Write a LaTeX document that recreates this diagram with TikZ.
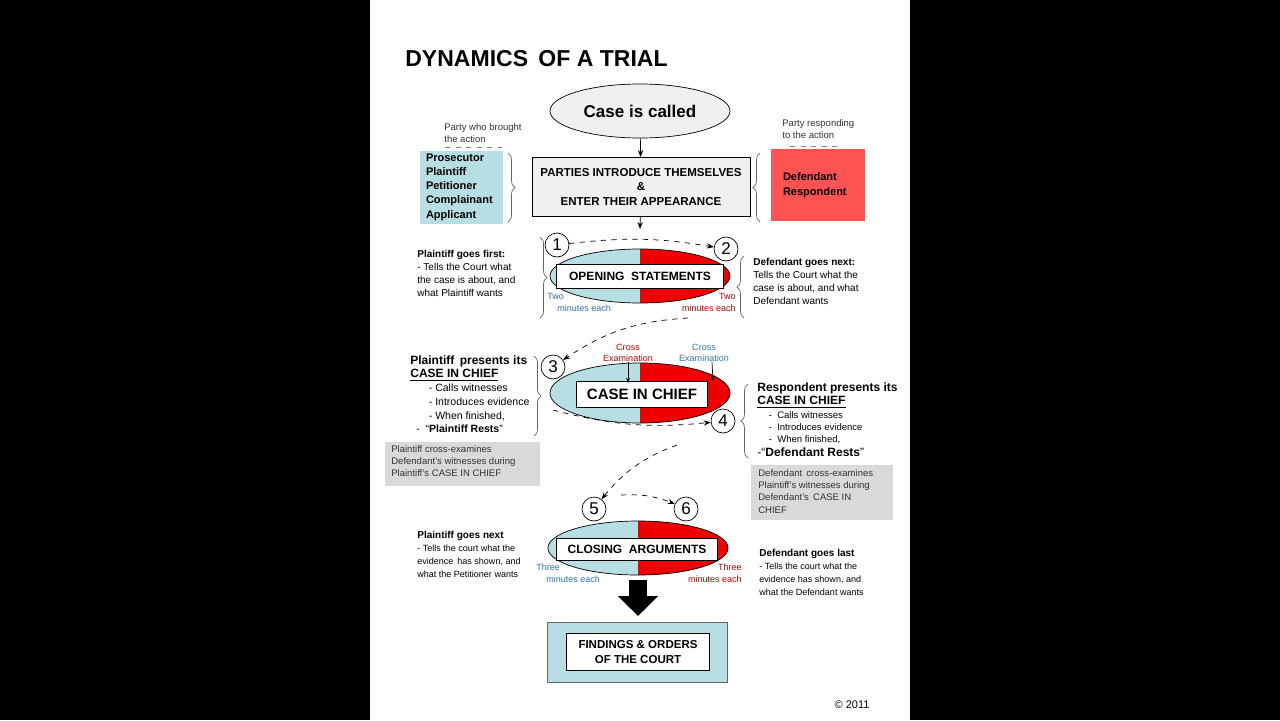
\documentclass[tikz,border=0pt]{standalone}
\usepackage{fontspec}
\setmainfont{Liberation Sans}
\usetikzlibrary{decorations.pathreplacing,arrows.meta,shapes.geometric}
\definecolor{lb}{HTML}{B7DEE3}
\definecolor{rd}{HTML}{EE0000}
\definecolor{pink}{HTML}{FF5252}
\definecolor{gb}{HTML}{D9D9D9}
\definecolor{bl}{HTML}{2E75B6}
\definecolor{dr}{HTML}{C00000}
\newcommand{\fz}[1]{\fontsize{\dimexpr #1pt*57/100\relax}{\dimexpr #1pt*74/100\relax}\selectfont}
\newcommand{\fzt}[1]{\fontsize{\dimexpr #1pt*57/100\relax}{\dimexpr #1pt*66/100\relax}\selectfont}
\tikzset{
 txt/.style={inner sep=0pt,align=left,anchor=north west,font=\fz{10}},
 num/.style={circle,draw,minimum size=24*0.02cm,inner sep=0pt,font=\fz{17},fill=white},
 dasharr/.style={dashed,-{Stealth[length=4pt]},thin},
 brc/.style={decorate,decoration={brace,amplitude=4pt},black!60,thin},
 wbox/.style={draw,fill=white,inner sep=0pt,font=\bfseries\fz{12}}
}
\begin{document}
\begin{tikzpicture}[x=0.02cm,y=-0.02cm]
\fill[black] (0,0) rectangle (1280,720);
\fill[white] (370,0) rectangle (910,720);
\node[txt,font=\bfseries\fz{23}] (title) at (405,50) {DYNAMICS \,OF A TRIAL};
% case is called
\node[draw,ellipse,fill=gray!12,minimum width=180*0.02cm,minimum height=54*0.02cm,font=\bfseries\fz{17}] (cc) at (640,111) {Case is called};
\node[draw,fill=gray!12,minimum width=218*0.02cm,minimum height=59*0.02cm,align=center,font=\bfseries\fz{11.5},inner sep=0pt] (pit) at (641,187) {PARTIES INTRODUCE THEMSELVES\\\&\\ENTER THEIR APPEARANCE};
\draw[-{Stealth[length=4pt]}] (cc) -- (pit);
\node[fill=lb,minimum width=83*0.02cm,minimum height=73*0.02cm,align=left,font=\bfseries\fz{11},inner sep=0pt,text width=70*0.02cm] (pros) at (461,187) {Prosecutor\\Plaintiff\\Petitioner\\Complainant\\Applicant};
\node[fill=pink,minimum width=94*0.02cm,minimum height=72*0.02cm,align=left,font=\bfseries\fz{11},inner sep=0pt,text width=70*0.02cm] (def) at (818,185) {Defendant\\Respondent};
\node[txt,font=\fz{9.5},text=black!80] (pwb) at (444,123) {Party who brought\\the action};
\node[txt,font=\fz{9.5},text=black!80] (pr) at (782,119) {Party responding\\to the action};
\draw[dashed,gray] (445,147) -- (502,147);
\draw[dashed,gray] (790,146) -- (838,146);
\draw[brc] (508,153) -- (508,222);
\draw[brc] (760,222) -- (760,153);
% opening
\begin{scope}
\clip (640,276) ellipse [x radius=90,y radius=27];
\fill[lb] (550,240) rectangle (640,310);
\fill[rd] (640,240) rectangle (730,310);
\end{scope}
\draw (640,276) ellipse [x radius=90,y radius=27];
\node[wbox,minimum width=167*0.02cm,minimum height=24*0.02cm] (os) at (640,276) {OPENING \ STATEMENTS};
\coordinate (pe) at (640,229);
\draw[-{Stealth[length=4pt]}] (pit) -- (pe);
\node[num] (n1) at (557,245) {1};
\node[num] (n2) at (726,249) {2};
\draw[dasharr] (n1) to[bend left=8] (n2);
\node[txt,font=\fz{9},text=bl,align=left] (tw1) at (547,293) {Two\\\hspace*{0.2cm}minutes each};
\node[txt,font=\fz{9},text=dr,align=right,anchor=north east] (tw2) at (736,293) {Two\\minutes each};
\draw[brc] (540,237) -- (540,318);
\draw[brc] (744,318) -- (744,256);
\node[txt] (pgf) at (417,250) {\textbf{Plaintiff goes first:}\\- Tells the Court what\\the case is about, and\\what Plaintiff wants};
\node[txt] (dgn) at (753,258) {\textbf{Defendant goes next:}\\Tells the Court what the\\case is about, and what\\Defendant wants};
% case in chief
\begin{scope}
\clip (640,393) ellipse [x radius=90,y radius=30];
\fill[lb] (550,360) rectangle (640,425);
\fill[rd] (640,360) rectangle (730,425);
\end{scope}
\draw (640,393) ellipse [x radius=90,y radius=30];
\node[wbox,font=\bfseries\fz{15},minimum width=131*0.02cm,minimum height=26*0.02cm] (cic) at (642,394) {CASE IN CHIEF};
\node[num] (n3) at (553,367) {3};
\node[num] (n4) at (723,421) {4};
\coordinate (c1) at (688,318);
\coordinate (c3) at (553,410);
\draw[dasharr] (c1) to[bend right=15] (n3);
\draw[dasharr] (c3) to[bend right=10] (n4);
\node[font=\fz{9},text=dr,align=center,inner sep=0pt] (ce1) at (628,353) {Cross\\Examination};
\node[font=\fz{9},text=bl,align=center,inner sep=0pt] (ce2) at (704,353) {Cross\\Examination};
\coordinate (a1) at (628,383);
\coordinate (a2) at (713,381);
\coordinate (a3) at (712,362);
\draw[-{Stealth[length=3pt]}] (ce1.south) -- (a1);
\draw[-{Stealth[length=3pt]}] (a3) -- (a2);
\draw[brc] (534,356) -- (534,436);
\draw[brc] (748,458) -- (748,384);
\node[txt,font=\bfseries\fzt{12}] (ppi) at (410,355) {Plaintiff \,presents its\\\underline{CASE IN CHIEF}};
\node[txt,font=\fz{10.5}] (ppl) at (416,384) {\hspace*{0.25cm}- Calls witnesses\\\hspace*{0.25cm}- Introduces evidence\\\hspace*{0.25cm}- When finished,\\- \ ``\textbf{Plaintiff Rests}''};
\node[txt,font=\bfseries\fzt{12}] (rpi) at (757,382) {Respondent presents its\\\underline{CASE IN CHIEF}};
\node[txt,font=\fz{9.5}] (rpl) at (756,411) {\hspace*{0.25cm}- \ Calls witnesses\\\hspace*{0.25cm}- \ Introduces evidence\\\hspace*{0.25cm}- \ When finished,};
\node[txt,font=\fz{12}] (drs) at (757,447) {-``\textbf{Defendant Rests}''};
\node[fill=gb,minimum width=155*0.02cm,minimum height=44*0.02cm,inner sep=0pt] (g1) at (462.5,464) {};
\node[txt,font=\fz{9.5},text=black!80] (g1t) at (391,445) {Plaintiff cross-examines\\Defendant's witnesses during\\Plaintiff's CASE IN CHIEF};
\node[fill=gb,minimum width=142*0.02cm,minimum height=55*0.02cm,inner sep=0pt] (g2) at (822,492.5) {};
\node[txt,font=\fz{9.5},text=black!80] (g2t) at (758,469) {Defendant \,cross-examines\\Plaintiff's witnesses during\\Defendant's \,CASE IN\\CHIEF};
% closing
\node[num] (n5) at (594,509) {5};
\node[num] (n6) at (686,509) {6};
\coordinate (c2) at (677,445);
\coordinate (c4) at (621,495);
\draw[dasharr] (c2) to[bend right=15] (n5);
\draw[dasharr] (c4) to[bend left=12] (n6);
\begin{scope}
\clip (638,548) ellipse [x radius=90,y radius=27];
\fill[lb] (548,520) rectangle (638,576);
\fill[rd] (638,520) rectangle (728,576);
\end{scope}
\draw (638,548) ellipse [x radius=90,y radius=27];
\node[wbox,minimum width=161*0.02cm,minimum height=22*0.02cm] (ca) at (637,549) {CLOSING \ ARGUMENTS};
\node[txt,font=\fz{9},text=bl,align=left] (th1) at (536,564) {Three\\\hspace*{0.2cm}minutes each};
\node[txt,font=\fz{9},text=dr,align=right,anchor=north east] (th2) at (742,564) {Three\\minutes each};
\node[txt] (pgn) at (417,531) {\textbf{Plaintiff goes next}\\\fz{9}- Tells the court what the\\\fz{9}evidence \,has shown, and\\\fz{9}what the Petitioner wants};
\node[txt] (dgl) at (759,549) {\textbf{Defendant goes last}\\\fz{9}- Tells the court what the\\\fz{9}evidence has shown, and\\\fz{9}what the Defendant wants};
% findings
\node[fill=lb,draw=black!60,minimum width=180*0.02cm,minimum height=60*0.02cm,inner sep=0pt] (fo) at (637,652) {};
\node[wbox,minimum width=143*0.02cm,minimum height=37*0.02cm,align=center,font=\bfseries\fz{11.5}] (fi) at (638,652) {FINDINGS \& ORDERS\\OF THE COURT};
\coordinate (ba) at (638,580);
\coordinate (bb) at (638,616);
\draw[black,line width=0.35cm,-{Triangle[length=0.4cm,width=0.78cm]}] (ba) -- (bb);
\node[font=\fz{11},inner sep=0pt] (cp) at (852,705) {\textcopyright{} 2011};
\end{tikzpicture}
\end{document}
